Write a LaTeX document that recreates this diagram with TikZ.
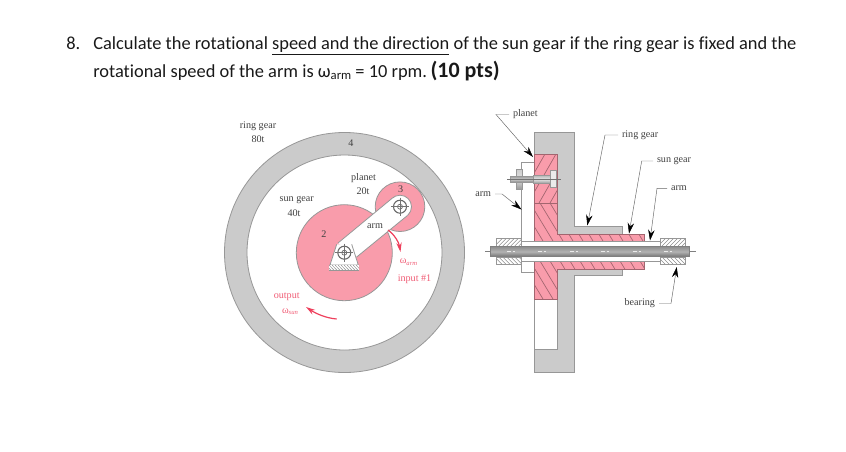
\documentclass[tikz,border=0pt]{standalone}
\usepackage{fontspec}
\setmainfont[Ligatures=NoCommon]{Carlito}
\newfontfamily\figfont{Liberation Serif}
\usetikzlibrary{arrows.meta}

\definecolor{gearpink}{HTML}{F99CAB}
\definecolor{partgray}{HTML}{CBCBCB}
\definecolor{edgegray}{HTML}{979797}
\definecolor{omegared}{HTML}{EE3F5C}

\tikzset{
  figlabel/.style={font=\figfont\fontsize{7.6}{9}\selectfont, text=black!75, inner sep=0pt},
  cutlabel/.style={figlabel, outer sep=3pt},
  redlabel/.style={figlabel, text=omegared!85},
  questext/.style={font=\fontsize{13.8}{16}\selectfont, text=black!90, inner sep=0pt, anchor=base west},
  partedge/.style={draw=edgegray, line width=0.6pt},
  hatch/.style={black!45, line width=0.35pt},
  gearhatch/.style={black!35!gearpink, line width=0.5pt},
  leader/.style={black!60, line width=0.35pt, -{Stealth[length=8pt, width=4.8pt, black]}},
  redarrow/.style={omegared, line width=0.9pt, -{Stealth[length=7pt, width=4pt]}},
  pivotring/.style={black!60, line width=0.8pt}
}

\begin{document}
\begin{tikzpicture}[x=0.75pt, y=-0.75pt]
\useasboundingbox (0,0) rectangle (846,451);

% question text
\node[questext] (numeight) at (66,49) {8.};
\node[questext] (lineone) at (93,49) {Calculate the rotational \underline{speed and the direction} of the sun gear if the ring gear is fixed and the};
\node[questext] (linetwo) at (93,77) {rotational speed of the arm is ω\raisebox{-1.5pt}{\fontsize{9.5}{10}\selectfont arm} = 10 rpm.\hspace{-1.5pt} {\fontsize{16.5}{18}\selectfont\bfseries (10 pts)}};

% gear train, front view
\fill[partgray, even odd rule] (344.5,252.5) circle (120) (344.5,252.5) circle (97.5);
\draw[partedge] (344.5,252.5) circle (120);
\draw[partedge] (344.5,252.5) circle (97.5);
\draw[partedge, fill=gearpink] (344.3,252.7) circle (48);
\draw[partedge, fill=gearpink] (400,206.7) circle (24.8);

% arm
\draw[partedge, fill=white] (400,206.7) circle (11.5);
\fill[white] (338,243) -- (392.7,197.8) -- (407.3,215.6) -- (356.7,257) -- cycle;
\draw[partedge] (338,243) -- (392.7,197.8);
\draw[partedge] (356.7,257) -- (407.3,215.6);

% fixed pivot
\fill[white] (336.7,244.3) -- (351.7,244.3) -- (358.3,265) -- (330,265) -- cycle;
\draw[partedge] (336.7,244.3) -- (330,265) -- (358.3,265) -- (351.7,244.3);
\fill[white] (329,265) rectangle (359,270.3);
\begin{scope}
\clip (329,265) rectangle (359,270.3);
\foreach \x in {326,329,...,362}
  \draw[hatch] (\x,265) -- (\x+5,270.3);
\end{scope}
\draw[edgegray, line width=0.4pt] (329,270.3) -- (359,270.3);

% pin marks
\foreach \cx/\cy in {344.3/252.7, 400/206.7} {
  \draw[pivotring] (\cx,\cy) circle (6.5);
  \draw[pivotring, line width=0.5pt] (\cx,\cy) circle (2.5);
  \draw[black!55, line width=0.4pt] (\cx-9,\cy) -- (\cx+9,\cy);
  \draw[black!55, line width=0.4pt] (\cx,\cy-9) -- (\cx,\cy+9);
}

\node[figlabel] (ringname) at (258,126) {ring gear};
\node[figlabel] (ringteeth) at (258,139.6) {80t};
\node[figlabel] (ringnum) at (351,143) {4};
\node[figlabel] (planetname) at (363.5,178) {planet};
\node[figlabel] (planetteeth) at (363,191) {20t};
\node[figlabel] (planetnum) at (400.7,189) {3};
\node[figlabel] (sunname) at (296.7,200) {sun gear};
\node[figlabel] (sunteeth) at (294,213) {40t};
\node[figlabel] (sunnum) at (324,234) {2};
\node[figlabel] (armname) at (375,226) {arm};
\node[redlabel] (omegaarm) at (408.5,262) {ω\raisebox{-1pt}{\fontsize{5}{5}\selectfont\itshape arm}};
\node[redlabel] (inputname) at (414.5,279) {input \#1};
\node[redlabel] (outputname) at (286.7,297) {output};
\node[redlabel] (omegasun) at (290,311.6) {ω\raisebox{-1pt}{\fontsize{5}{5}\selectfont\itshape sun}};

\coordinate (armtail) at (388,230);
\coordinate (armhead) at (400.5,252);
\coordinate (suntail) at (336.7,319);
\coordinate (sunhead) at (306,307);
\draw[redarrow] (armtail) .. controls (395,235) and (399,243) .. (armhead);
\draw[redarrow] (suntail) .. controls (325,318) and (315,313) .. (sunhead);

% gear train, cut-away view
\draw[partedge, fill=white] (521.7,162) rectangle (534,272);
\draw[partedge, fill=partgray] (534,132) -- (574.3,132) -- (574.3,226.7) -- (622.3,226.7) -- (622.3,234) -- (557.3,234) -- (557.3,154) -- (534,154) -- cycle;
\draw[partedge, fill=partgray] (557.3,269) -- (622.3,269) -- (622.3,275.7) -- (574.3,275.7) -- (574.3,372) -- (534,372) -- (534,349) -- (557.3,349) -- cycle;
\draw[partedge, fill=white] (534,299) rectangle (557.3,349);

% planet
\fill[gearpink] (534,154) rectangle (557.3,203);
\begin{scope}
\clip (534,154) rectangle (557.3,203);
\foreach \x in {506,517,...,561}
  \draw[gearhatch] (\x,203) -- (\x+28,154);
\end{scope}
\draw[gearhatch] (534,154) rectangle (557.3,203);

% sun gear
\fill[gearpink] (534,203) -- (557.3,203) -- (557.3,234) -- (644,234) -- (644,241) -- (534,241) -- cycle;
\fill[gearpink] (534,261) -- (644,261) -- (644,269) -- (557.3,269) -- (557.3,299) -- (534,299) -- cycle;
\begin{scope}
\clip (534,203) -- (557.3,203) -- (557.3,234) -- (644,234) -- (644,241) -- (534,241) -- cycle
      (534,261) -- (644,261) -- (644,269) -- (557.3,269) -- (557.3,299) -- (534,299) -- cycle;
\foreach \x in {480,490,...,650} {
  \draw[gearhatch] (\x,203) -- (\x+23,241);
  \draw[gearhatch] (\x,261) -- (\x+23,299);
}
\end{scope}
\draw[gearhatch] (534,203) -- (557.3,203) -- (557.3,234) -- (644,234) -- (644,241) -- (534,241) -- cycle;
\draw[gearhatch] (534,261) -- (644,261) -- (644,269) -- (557.3,269) -- (557.3,299) -- (534,299) -- cycle;

% planet pin
\draw[edgegray, line width=0.4pt, top color=black!20, bottom color=black!40, middle color=black!12] (516.7,169) rectangle (522.3,189);
\draw[edgegray, line width=0.4pt, top color=black!40, bottom color=black!50, middle color=black!20] (510,176) rectangle (533,182.5);
\draw[edgegray, line width=0.4pt, top color=black!30, bottom color=black!40, middle color=black!10] (533,175) rectangle (550,183.3);
\draw[edgegray, line width=0.4pt, fill=black!8] (550,170.7) rectangle (556.7,187.3);
\draw[black!55, line width=0.4pt] (507,179) -- (561,179);

% arm tube, shaft, bearings
\draw[partedge, fill=white] (521.7,241) rectangle (660,261);
\foreach \bx in {496.7,660} {
  \begin{scope}
  \clip (\bx,238.5) rectangle (\bx+25,246);
  \foreach \k in {-2,2,...,30}
    \draw[hatch] (\bx+\k,246) -- (\bx+\k+7.5,238.5);
  \end{scope}
  \begin{scope}
  \clip (\bx,257) rectangle (\bx+25,264.3);
  \foreach \k in {-2,2,...,30}
    \draw[hatch] (\bx+\k,257) -- (\bx+\k+7.3,264.3);
  \end{scope}
  \draw[edgegray, line width=0.5pt] (\bx,238.5) rectangle (\bx+25,246);
  \draw[edgegray, line width=0.5pt] (\bx,257) rectangle (\bx+25,264.3);
}
\draw[black!50, line width=0.5pt, top color=black!45, bottom color=black!55, middle color=black!30] (490,246.5) rectangle (689,256.7);
\draw[black!50, line width=0.4pt] (485,251.5) -- (490,251.5);
\draw[black!50, line width=0.4pt] (689,251.5) -- (696,251.5);
\foreach \dx in {507,538,570,601,633,664}
  \draw[black!8, line width=0.6pt, dash pattern=on 3pt off 1.5pt] (\dx,251.5) -- (\dx+8,251.5);

% leaders
\node[cutlabel, anchor=west] (planetcut) at (509,114.5) {planet};
\node[cutlabel, anchor=east] (armleft) at (495,194) {arm};
\node[cutlabel, anchor=west] (ringcut) at (618,135) {ring gear};
\node[cutlabel, anchor=west] (suncut) at (653,161) {sun gear};
\node[cutlabel, anchor=west] (armright) at (667,188.3) {arm};
\node[cutlabel, anchor=east] (bearingcut) at (659,303.5) {bearing};

\coordinate (planettip) at (533,157);
\coordinate (armlefttip) at (521.5,209.5);
\coordinate (ringtip) at (587.3,225.5);
\coordinate (suntip) at (629,233.5);
\coordinate (armrighttip) at (650,240.5);
\coordinate (bearingtip) at (676.7,267);

\draw[leader] (planetcut) -- (496,114.5) -- (planettip);
\draw[leader] (armleft) -- (502,194) -- (armlefttip);
\draw[leader] (ringcut) -- (605,135) -- (ringtip);
\draw[leader] (suncut) -- (641.7,161) -- (suntip);
\draw[leader] (armright) -- (657,188.3) -- (armrighttip);
\draw[leader] (bearingcut) -- (671,303.5) -- (bearingtip);

\end{tikzpicture}
\end{document}
